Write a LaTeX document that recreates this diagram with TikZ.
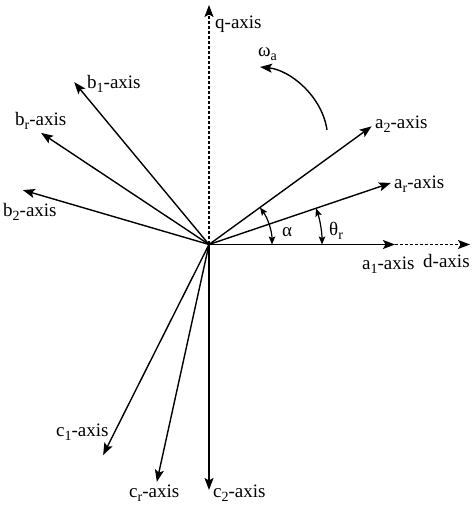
\documentclass[tikz,border=0pt]{standalone}
\usepackage{fontspec}
\setmainfont{Liberation Serif}
\usetikzlibrary{arrows.meta}
\newcommand{\sbs}[1]{\raisebox{-4pt}{\fontsize{14}{16}\selectfont #1}}
\begin{document}
\begin{tikzpicture}[x=1pt,y=1pt,
  ax/.style={line width=1.4pt, -{Stealth[length=12pt,width=9pt,inset=2.5pt]}},
  dax/.style={ax, dash pattern=on 3pt off 2pt},
  ang/.style={line width=1.2pt, {Stealth[length=8pt,width=6.5pt,inset=1.5pt]}-{Stealth[length=8pt,width=6.5pt,inset=1.5pt]}},
  lab/.style={font=\fontsize{19}{22}\selectfont, inner sep=0pt, anchor=base west}]
\useasboundingbox (0,0) rectangle (474,508);
\coordinate (O) at (209,263.5);
\coordinate (q) at (209,503);
\coordinate (a1) at (395,263.5);
\coordinate (d) at (470,263.5);
\path (O) ++(36:201) coordinate (a2);
\path (O) ++(18.7:192) coordinate (ar);
\path (O) ++(129.7:211) coordinate (b1);
\path (O) ++(146.4:201.6) coordinate (br);
\path (O) ++(163.7:194) coordinate (b2);
\path (O) ++(243.3:235.7) coordinate (c1);
\path (O) ++(257.6:243) coordinate (cr);
\path (O) ++(270:245.5) coordinate (c2);
% axes
\draw[dax] (O) -- (q);
\draw[ax] (O) -- (a1);
\draw[dax] (a1) -- (d);
\foreach \p in {a2,ar,b1,br,b2,c1,cr,c2} \draw[ax] (O) -- (\p);
% angle arcs
\draw[ang] (O) ++(0:63) arc[start angle=0, end angle=36, radius=63];
\draw[ang] (O) ++(0:113) arc[start angle=0, end angle=18.7, radius=113];
% omega arc
\coordinate (w0) at (327,378);
\coordinate (w1) at (260,441);
\draw[ax] (w0) .. controls (322,412) and (290,438) .. (w1);
% labels
\node[lab] (lq) at (215,479) {q-axis};
\node[lab] (lw) at (258,451) {ω\sbs{a}};
\node[lab] (lb1) at (87,419) {b\sbs{1}-axis};
\node[lab] (lbr) at (15,382) {b\sbs{r}-axis};
\node[lab] (lb2) at (3,291) {b\sbs{2}-axis};
\node[lab] (la2) at (375,379) {a\sbs{2}-axis};
\node[lab] (lar) at (394,319) {a\sbs{r}-axis};
\node[lab] (la1) at (362,238) {a\sbs{1}-axis};
\node[lab] (ld) at (423,240) {d-axis};
\node[lab] (lal) at (282,271) {α};
\node[lab] (lth) at (329,272) {θ\sbs{r}};
\node[lab] (lc1) at (56,71) {c\sbs{1}-axis};
\node[lab] (lcr) at (129,10) {c\sbs{r}-axis};
\node[lab] (lc2) at (213,10) {c\sbs{2}-axis};
\end{tikzpicture}
\end{document}
